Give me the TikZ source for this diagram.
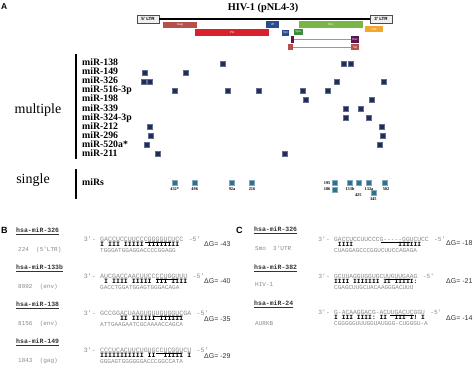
\documentclass[tikz,border=0pt]{standalone}
\usepackage{fontspec}
\setmainfont{Liberation Serif}
\setsansfont{Liberation Sans}
\setmonofont{Liberation Mono}
\usepackage{tikz}
\usetikzlibrary{positioning}
\definecolor{gagred}{HTML}{B5504A}
\definecolor{polred}{HTML}{D9202C}
\definecolor{vifblue}{HTML}{2B4B8C}
\definecolor{envgreen}{HTML}{7AB547}
\definecolor{vpugreen}{HTML}{3C8C3C}
\definecolor{neforange}{HTML}{F0A830}
\definecolor{revpurple}{HTML}{5A1450}
\definecolor{hitnavy}{HTML}{1F2D5A}
\definecolor{hitteal}{HTML}{2F6F8F}
\definecolor{seqgray}{HTML}{8A8A8A}

\begin{document}
\begin{tikzpicture}[x=1pt, y=-1pt,
    gene/.style={rectangle, inner sep=0pt, font=\sffamily\fontsize{3}{3}\selectfont, text=white},
    ltr/.style={rectangle, draw=black!70, fill=black!6, inner sep=0pt, minimum width=22pt, minimum height=8pt, font=\sffamily\bfseries\fontsize{4.5}{4.5}\selectfont},
    mirlab/.style={anchor=west, inner sep=0pt, text height=6.4pt, text depth=1.7pt, font=\bfseries\fontsize{9.8}{9.8}\selectfont},
    msq/.style={rectangle, fill=hitnavy, draw=hitnavy!70, line width=0.4pt, minimum size=5.2pt, inner sep=0pt},
    ssq/.style={rectangle, fill=hitteal, draw=hitteal!60, line width=0.4pt, minimum size=5pt, inner sep=0pt},
    snum/.style={inner sep=0pt, font=\bfseries\fontsize{4.3}{4.3}\selectfont},
    seq/.style={anchor=west, inner sep=0pt, text=seqgray, text height=3.8pt, text depth=0.3pt, font=\ttfamily\fontsize{6.6}{6.6}\selectfont},
    seqC/.style={seq, font=\ttfamily\fontsize{6.3}{6.3}\selectfont},
    tgt/.style={seq, font=\ttfamily\fontsize{6}{6}\selectfont},
    pairs/.style={seq, text=black, font=\ttfamily\bfseries\fontsize{6.6}{6.6}\selectfont},
    pairsC/.style={seq, text=black, font=\ttfamily\bfseries\fontsize{6.3}{6.3}\selectfont},
    hsa/.style={anchor=west, inner sep=0pt, text=black!80, font=\ttfamily\bfseries\fontsize{6.5}{6.5}\selectfont},
    dg/.style={anchor=west, inner sep=0pt, text=black!80, font=\sffamily\fontsize{7}{7}\selectfont},
    seed/.style={black, line width=1.1pt}]
\useasboundingbox (0,0) rectangle (474,370);

% panel A: genome map
\node[anchor=west, inner sep=0pt, font=\sffamily\bfseries\fontsize{8.5}{8.5}\selectfont] (pA) at (1,7) {A};
\node[font=\bfseries\fontsize{10.3}{10.3}\selectfont] (title) at (263,8) {HIV-1 (pNL4-3)};

\node[ltr] (ltr5) at (148,19) {5' LTR};
\node[ltr] (ltr3) at (381,19) {3' LTR};
\draw[black, line width=1.2pt] (ltr5) -- (ltr3);

\node[gene, fill=gagred,    minimum width=34pt, minimum height=6.5pt] (gag)  at (180,25)   {Gag};
\node[gene, fill=polred,    minimum width=74pt, minimum height=6.5pt] (pol)  at (232,32.5) {Pol};
\node[gene, fill=vifblue,   minimum width=13pt, minimum height=6.5pt] (vif)  at (272.5,24.7) {Vif};
\node[gene, fill=envgreen,  minimum width=64pt, minimum height=6.5pt] (env)  at (331,24.7) {Env};
\node[gene, fill=neforange, minimum width=18pt, minimum height=6.5pt] (nef)  at (374,29)   {Nef};
\node[gene, fill=vifblue,   minimum width=7.5pt, minimum height=5.5pt] (vpr) at (285.5,33) {Vpr};
\node[gene, fill=vpugreen,  minimum width=9pt, minimum height=6pt]   (vpu)  at (298,31.5) {Vpu};
\node[gene, fill=revpurple, minimum width=3pt, minimum height=6.5pt]  (revA) at (292,39.5) {};
\node[gene, fill=revpurple, minimum width=8pt, minimum height=6.5pt]  (revB) at (355,39.5) {Rev};
\node[gene, fill=gagred,    minimum width=5.5pt, minimum height=6pt]  (tatA) at (290.5,47) {};
\node[gene, fill=gagred,    minimum width=8pt, minimum height=6pt]    (tatB) at (355,47)   {Tat};
\draw[black!40, line width=0.8pt] (revA) -- (revB);
\draw[black!40, line width=0.8pt] (tatA) -- (tatB);

% multiple hits
\node[font=\fontsize{14}{14}\selectfont] (multi) at (38,110) {multiple};
\draw[black, line width=1.5pt] (76,54) -- (76,159);

\node[mirlab] (m138)  at (82,63.3)  {miR-138};
\node[mirlab] (m149)  at (82,72.4)  {miR-149};
\node[mirlab] (m326)  at (82,81.4)  {miR-326};
\node[mirlab] (m516)  at (82,90.5)  {miR-516-3p};
\node[mirlab] (m198)  at (82,99.6)  {miR-198};
\node[mirlab] (m339)  at (82,108.7) {miR-339};
\node[mirlab] (m324)  at (82,117.7) {miR-324-3p};
\node[mirlab] (m212)  at (82,126.8) {miR-212};
\node[mirlab] (m296)  at (82,135.9) {miR-296};
\node[mirlab] (m520)  at (82,144.9) {miR-520a*};
\node[mirlab] (m211)  at (82,154.0) {miR-211};

\foreach \x [count=\i] in {223,344,351}         \node[msq] (h138-\i) at (\x,63.3)  {};
\foreach \x [count=\i] in {145,186}             \node[msq] (h149-\i) at (\x,72.4)  {};
\foreach \x [count=\i] in {144,150,337,384}     \node[msq] (h326-\i) at (\x,81.4)  {};
\foreach \x [count=\i] in {175,228,259,303,328} \node[msq] (h516-\i) at (\x,90.5)  {};
\foreach \x [count=\i] in {306,372}             \node[msq] (h198-\i) at (\x,99.6)  {};
\foreach \x [count=\i] in {346,361}             \node[msq] (h339-\i) at (\x,108.7) {};
\foreach \x [count=\i] in {346,369}             \node[msq] (h324-\i) at (\x,117.7) {};
\foreach \x [count=\i] in {150,382}             \node[msq] (h212-\i) at (\x,126.8) {};
\foreach \x [count=\i] in {151,383}             \node[msq] (h296-\i) at (\x,135.9) {};
\foreach \x [count=\i] in {147,380}             \node[msq] (h520-\i) at (\x,144.9) {};
\foreach \x [count=\i] in {158,285}             \node[msq] (h211-\i) at (\x,154.0) {};

% single hits
\node[font=\fontsize{14}{14}\selectfont] (single) at (33,180) {single};
\draw[black, line width=1.5pt] (76,169) -- (76,199);
\node[mirlab] (mirs) at (82,183) {miRs};

\node[ssq] (s432) at (174.7,182.7) {};  \node[snum] at (174.7,188.7) {432*};
\node[ssq] (s496) at (194.7,182.7) {};  \node[snum] at (194.7,188.7) {496};
\node[ssq] (s92)  at (232,182.7)   {};  \node[snum] at (232,188.7)   {92a};
\node[ssq] (s216) at (252,182.7)   {};  \node[snum] at (252,188.7)   {216};
\node[ssq] (s195) at (334.7,182.7) {};  \node[snum, left=1.5pt of s195] {195};
\node[ssq] (s186) at (334.7,189.3) {};  \node[snum, left=1.5pt of s186] {186};
\node[ssq] (s133) at (349.3,182.7) {};  \node[snum] at (350,188.9)   {133b};
\node[ssq] (s425) at (358.3,182.7) {};  \node[snum] at (358.3,195.3) {425};
\node[ssq] (s132) at (368.7,182.7) {};  \node[snum] at (369,188.9)   {132a};
\node[ssq] (s345) at (373.3,193)   {};  \node[snum] at (373.3,199.5) {345};
\node[ssq] (s502) at (384.3,182.7) {};  \node[snum] at (386,188.9)   {502};

% panel B
\node[anchor=west, inner sep=0pt, font=\sffamily\bfseries\fontsize{9}{9}\selectfont] (pB) at (1,230) {B};

\node[hsa] (b1) at (16,231) {\underline{hsa-miR-326}};
\node[seq] (sb1) at (100,239.5) {GACCUCCUUCCCGGGGUCUCC};
\node[seq, left=4pt of sb1]  {3'-};
\node[seq, right=5pt of sb1] {-5'};
\node[pairs] (kb1) at (100,245) {I~III~IIIII~IIIIIIII};
\node[tgt] (tb1) at (100,250.5) {TGGGATGGAGGACCCCGGAGG};
\node[tgt] (lb1) at (18,249.5) {224~~(5'LTR)};
\node[dg]  (gb1) at (204,244) {ΔG= -43};
\draw[seed] (145,242.3) -- (171,242.3);

\node[hsa] (b2) at (16,268) {\underline{hsa-miR-133b}};
\node[seq] (sb2) at (100,276.5) {AUCGACCAACUUCCCCUGGUUU};
\node[seq, left=4pt of sb2]  {3'-};
\node[seq, right=5pt of sb2] {-5'};
\node[pairs] (kb2) at (100,282) {~I~IIII~IIIII~III~IIII};
\node[tgt] (tb2) at (100,287.5) {GACCTGGATGGAGTGGGACAGA};
\node[tgt] (lb2) at (18,286.5) {8092~~(env)};
\node[dg]  (gb2) at (204,281) {ΔG= -40};
\draw[seed] (156,279.3) -- (178,279.3);

\node[hsa] (b3) at (16,305) {\underline{hsa-miR-138}};
\node[seq] (sb3) at (100,313.5) {GCCGGACUAAGUGUUGUGGUCGA};
\node[seq, left=4pt of sb3]  {3'-};
\node[seq, right=5pt of sb3] {-5'};
\node[pairs] (kb3) at (100,319) {~~~~~II~IIIIII~IIIIII};
\node[tgt] (tb3) at (100,324.5) {ATTGAAGAATCGCAAAACCAGCA};
\node[tgt] (lb3) at (18,323.5) {8156~~(env)};
\node[dg]  (gb3) at (204,319) {ΔG= -35};
\draw[seed] (153,316.3) -- (181,316.3);

\node[hsa] (b4) at (16,342) {\underline{hsa-miR-149}};
\node[seq] (sb4) at (100,350.5) {CCCUCACUUCUGUGCCUCGGUCU};
\node[seq, left=4pt of sb4]  {3'-};
\node[seq, right=5pt of sb4] {-5'};
\node[pairs] (kb4) at (100,356) {IIIIIIIIIII~II~~IIIII~I};
\node[tgt] (tb4) at (100,361.5) {GGGAGTGGGGGGACCCGGCCATA};
\node[tgt] (lb4) at (18,360.5) {1843~~(gag)};
\node[dg]  (gb4) at (204,356) {ΔG= -29};
\draw[seed] (156,353.3) -- (181,353.3);

% panel C
\node[anchor=west, inner sep=0pt, font=\sffamily\bfseries\fontsize{9}{9}\selectfont] (pC) at (236,230) {C};

\node[hsa] (c1) at (254,230) {\underline{hsa-miR-326}};
\node[seqC] (sc1) at (334,239.5) {GACCUCCUUCCCG-----GGUCUCC};
\node[seqC, left=4pt of sc1]  {3'-};
\node[seqC, right=5pt of sc1] {-5'};
\node[pairsC] (kc1) at (334,245) {~IIII~~~~~~~~~~~~IIIIII};
\node[tgt] (tc1) at (334,250.5) {CUAGGAGCCCGGUCUUCCAGAGA};
\node[tgt] (lc1) at (255,249) {Smo~~3'UTR};
\node[dg]  (gc1) at (446,243.5) {ΔG= -18};
\draw[seed] (381,242.3) -- (410,242.3);

\node[hsa] (c2) at (254,268) {\underline{hsa-miR-382}};
\node[seqC] (sc2) at (334,276.5) {GCUUAGGUGGUGCUUGUUGAAG};
\node[seqC, left=4pt of sc2]  {3'-};
\node[seqC, right=5pt of sc2] {-5'};
\node[pairsC] (kc2) at (334,282) {IIII~IIIIIII~II~IIIII:};
\node[tgt] (tc2) at (334,287.5) {CGAGCUUGCUACAAGGGACUUU};
\node[tgt] (lc2) at (255,284.5) {HIV-1};
\node[dg]  (gc2) at (446,281) {ΔG= -21};
\draw[seed] (386,279.3) -- (410,279.3);

\node[hsa] (c3) at (254,304) {\underline{hsa-miR-24}};
\node[seqC] (sc3) at (334,312.5) {G-ACAAGGACG-ACUUGACUCGGU};
\node[seqC, left=4pt of sc3]  {3'-};
\node[seqC, right=5pt of sc3] {-5'};
\node[pairsC] (kc3) at (334,318) {I~III~IIII:~II~~III~I!~I};
\node[tgt] (tc3) at (334,323.5) {CGGGGGUUUGGUAUGGG-CUGGGU-A};
\node[tgt] (lc3) at (255,324) {AURKB};
\node[dg]  (gc3) at (446,318.5) {ΔG= -14};
\draw[seed] (390,315.3) -- (414,315.3);
\end{tikzpicture}
\end{document}
